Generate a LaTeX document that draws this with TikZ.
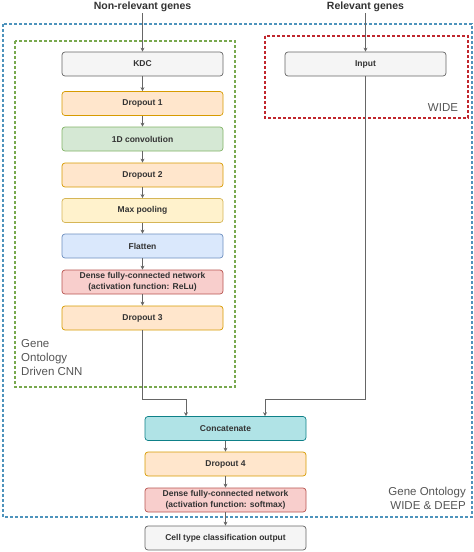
\documentclass[tikz,border=0pt]{standalone}
\usepackage{fontspec}
\setmainfont{Liberation Sans}
\usepackage{xcolor}
\usetikzlibrary{arrows.meta,positioning,calc}
\definecolor{txtC}{HTML}{333333}
\definecolor{lblC}{HTML}{555555}
\definecolor{grayF}{HTML}{F5F5F5}\definecolor{grayD}{HTML}{666666}
\definecolor{orgF}{HTML}{FFE6CC}\definecolor{orgD}{HTML}{D79B00}
\definecolor{grnF}{HTML}{D5E8D4}\definecolor{grnD}{HTML}{82B366}
\definecolor{ylwF}{HTML}{FFF2CC}\definecolor{ylwD}{HTML}{D6B656}
\definecolor{bluF}{HTML}{DAE8FC}\definecolor{bluD}{HTML}{6C8EBF}
\definecolor{redF}{HTML}{F8CECC}\definecolor{redD}{HTML}{B85450}
\definecolor{cyaF}{HTML}{B0E3E6}\definecolor{cyaD}{HTML}{0E8088}
\definecolor{cnnD}{HTML}{78A84E}
\definecolor{wdD}{HTML}{C0262D}
\definecolor{outD}{HTML}{4E93BC}
\tikzset{
  B/.style={draw, rectangle, rounded corners=3pt, align=center,
            font=\fontsize{8.5}{11}\selectfont\bfseries, text=txtC,
            minimum width=161pt, minimum height=24pt, inner sep=1pt,
            line width=0.7pt},
  G/.style={draw, dashed, dash pattern=on 3pt off 2pt, line width=1.1pt},
  SA/.style={-{Stealth[length=4pt,width=4pt]}, draw=grayD, line width=0.6pt},
  LB/.style={align=left, text=lblC, font=\fontsize{11.5}{14}\selectfont, inner sep=0pt}
}
\begin{document}
\begin{tikzpicture}[x=1pt, y=-1pt,
  GR/.style={B, fill=grayF, draw=grayD},
  DO/.style={B, fill=orgF, draw=orgD},
  TI/.style={font=\fontsize{10.5}{12}\selectfont\bfseries, text=txtC, inner sep=1pt}
]
\useasboundingbox (0,0) rectangle (474,552);

% Group frames
\draw[G, draw=outD] (3,24) rectangle (472,517);
\draw[G, draw=cnnD] (15,41) rectangle (235,387);
\draw[G, draw=wdD] (265,36) rectangle (468,118);

% Titles
\node[TI] (NR) at (142.5,7) {Non-relevant genes};
\node[TI] (RG) at (365.5,7) {Relevant genes};

% Deep branch
\node[GR] (KDC) at (142.5,64)  {KDC};
\node[DO] (D1)  at (142.5,103.5) {Dropout 1};
\node[B, fill=grnF, draw=grnD] (CV) at (142.5,139) {1D convolution};
\node[DO] (D2)  at (142.5,175) {Dropout 2};
\node[B, fill=ylwF, draw=ylwD] (MP) at (142.5,210.5) {Max pooling};
\node[B, fill=bluF, draw=bluD] (FL) at (142.5,246) {Flatten};
\node[B, fill=redF, draw=redD] (DR) at (142.5,282)
    {Dense fully-connected network\\(activation function: ReLu)};
\node[DO] (D3)  at (142.5,318) {Dropout 3};

% Wide branch
\node[GR] (IN) at (365.5,64) {Input};

% Joint part
\node[B, fill=cyaF, draw=cyaD] (CC) at (225.5,428.5) {Concatenate};
\node[DO] (D4) at (225.5,464) {Dropout 4};
\node[B, fill=redF, draw=redD] (DS) at (225.5,500)
    {Dense fully-connected network\\(activation function: softmax)};
\node[GR] (OUT) at (225.5,538) {Cell type classification output};

% Group labels
\node[LB, anchor=north west] (LCNN) at (21,339) {Gene\\Ontology\\Driven CNN};
\node[LB] (LW) at (443,107.5) {WIDE};
\node[LB, align=right, anchor=east] (LWD) at (466,498.5) {Gene Ontology\\WIDE \& DEEP};

% -- Arrows --
\draw[SA] (NR.south) -- (KDC.north);
\draw[SA] (RG.south) -- (IN.north);
\draw[SA] (KDC) -- (D1);
\draw[SA] (D1) -- (CV);
\draw[SA] (CV) -- (D2);
\draw[SA] (D2) -- (MP);
\draw[SA] (MP) -- (FL);
\draw[SA] (FL) -- (DR);
\draw[SA] (DR) -- (D3);

\coordinate (JL) at (186,399);
\coordinate (JR) at (265,399);
\draw[SA] (D3.south) |- (JL) -- (JL |- CC.north);
\draw[SA] (IN.south) |- (JR) -- (JR |- CC.north);

\draw[SA] (CC) -- (D4);
\draw[SA] (D4) -- (DS);
\draw[SA] (DS) -- (OUT);

\end{tikzpicture}
\end{document}
